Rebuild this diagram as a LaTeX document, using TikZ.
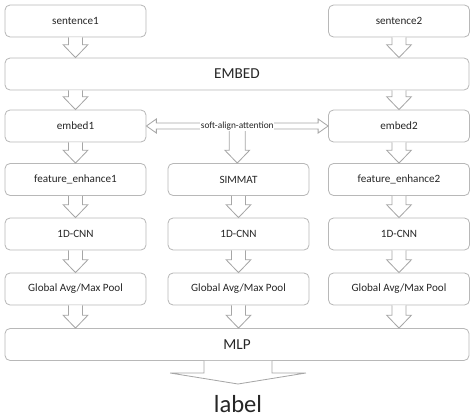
\documentclass[tikz,border=0pt]{standalone}
\usepackage{fontspec}
\setmainfont{Carlito}
\usetikzlibrary{calc}

% hollow block arrow pointing down, from #1 to #2
\newcommand{\blockdown}[2]{%
  \draw[blockarr] let \p1=(#1), \p2=(#2) in
    (\x1-6pt,\y1) -- (\x1-6pt,\y2+11pt) -- (\x1-10.6pt,\y2+11pt) -- (\x1,\y2)
    -- (\x1+10.6pt,\y2+11pt) -- (\x1+6pt,\y2+11pt) -- (\x1+6pt,\y1);}

\begin{document}
\begin{tikzpicture}[x=0.3mm,y=-0.3mm,
  box/.style={draw=black!28, line width=0.7pt, rounded corners=1.5mm, fill=white, text=black!85,
    minimum width=42.3mm, minimum height=9.6mm, inner sep=0pt, font=\fontsize{9.5}{11}\selectfont},
  wide/.style={box, minimum width=139.2mm, font=\fontsize{13}{15}\selectfont},
  blockarr/.style={draw=black!35, fill=white, line width=0.7pt, line join=miter}]
\useasboundingbox (0,0) rectangle (474,419);

\node[box] (s1) at (75.5,21) {sentence1};
\node[box] (s2) at (399,21) {sentence2};
\node[wide] (emb) at (237,74) {EMBED};
\node[box] (e1) at (75.5,126) {embed1};
\node[box] (e2) at (399,126) {embed2};
\node[box] (f1) at (75.5,179.5) {feature\_enhance1};
\node[box] (sim) at (238.5,179.5) {SIMMAT};
\node[box] (f2) at (399,179.5) {feature\_enhance2};
\node[box] (c1) at (75.5,234) {1D-CNN};
\node[box] (c2) at (238.5,234) {1D-CNN};
\node[box] (c3) at (399,234) {1D-CNN};
\node[box] (g1) at (75.5,289) {Global Avg/Max Pool};
\node[box] (g2) at (238.5,289) {Global Avg/Max Pool};
\node[box] (g3) at (399,289) {Global Avg/Max Pool};
\node[wide] (mlp) at (237,344.5) {MLP};
\node[text=black!85, font=\fontsize{21}{24}\selectfont] (lab) at (238,404) {label};
\coordinate (tip) at (238,384);
\coordinate (att) at ($(e1.east)!0.5!(e2.west)$);

% arrows between the rows
\blockdown{s1.south}{s1.south |- emb.north}
\blockdown{s2.south}{s2.south |- emb.north}
\blockdown{e1.north |- emb.south}{e1.north}
\blockdown{e2.north |- emb.south}{e2.north}
\blockdown{e1.south}{f1.north}
\blockdown{e2.south}{f2.north}
\blockdown{f1.south}{c1.north}
\blockdown{sim.south}{c2.north}
\blockdown{f2.south}{c3.north}
\blockdown{c1.south}{g1.north}
\blockdown{c2.south}{g2.north}
\blockdown{c3.south}{g3.north}
\blockdown{g1.south}{g1.south |- mlp.north}
\blockdown{g2.south}{g2.south |- mlp.north}
\blockdown{g3.south}{g3.south |- mlp.north}

% soft-align-attention
\draw[blockarr] let \p1=(e1.east), \p2=(e2.west) in
  (\x1,\y1) -- (\x1+8.5pt,\y1+6pt) -- (\x1+8.5pt,\y1+2.5pt) -- (\x2-8.5pt,\y1+2.5pt)
  -- (\x2-8.5pt,\y1+6pt) -- (\x2,\y1) -- (\x2-8.5pt,\y1-6pt) -- (\x2-8.5pt,\y1-2.5pt)
  -- (\x1+8.5pt,\y1-2.5pt) -- (\x1+8.5pt,\y1-6pt) -- cycle;
\draw[blockarr] let \p1=(att), \p2=(att |- sim.north) in
  (\x1-6.8pt,\y1) -- (\x1-6.8pt,\y2+11pt) -- (\x1-10.6pt,\y2+11pt) -- (\x1,\y2)
  -- (\x1+10.6pt,\y2+11pt) -- (\x1+6.8pt,\y2+11pt) -- (\x1+6.8pt,\y1);
\node[fill=white, inner sep=0.5pt, text=black!85, font=\fontsize{8}{9}\selectfont] (atttxt) at (att) {soft-align-attention};

% output arrow
\draw[blockarr] let \p1=(mlp.south -| tip), \p2=(tip) in
  (\x1-29pt,\y1) -- (\x1-29pt,\y2+9.4pt) -- (\x1-58pt,\y2+9.4pt) -- (\x2,\y2)
  -- (\x1+58pt,\y2+9.4pt) -- (\x1+29pt,\y2+9.4pt) -- (\x1+29pt,\y1);
\end{tikzpicture}
\end{document}
